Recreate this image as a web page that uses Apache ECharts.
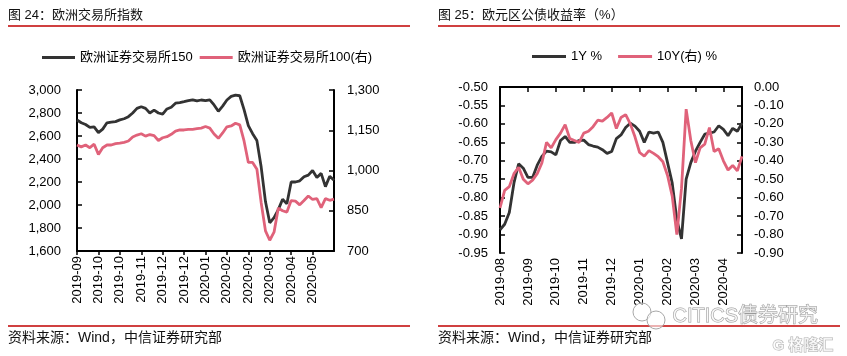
<!DOCTYPE html>
<html>
<head>
<meta charset="utf-8">
<script src="https://cdn.jsdelivr.net/npm/echarts@6/dist/echarts.min.js"></script>
<style>
html, body { margin: 0; padding: 0; background: #fff; }
#main { width: 847px; height: 356px; }
</style>
</head>
<body>
<div id="main"></div>
<script>
// 图24 欧洲交易所指数 (one label every 5 points)
var stoxxTicks = ['2019-09', '2019-10', '2019-10', '2019-11', '2019-12', '2019-12',
                  '2020-01', '2020-02', '2020-02', '2020-03', '2020-04', '2020-05'];
var stoxx150 = [2739, 2715, 2700, 2675, 2680, 2630, 2660, 2715, 2720, 2725,
                2740, 2750, 2768, 2800, 2840, 2855, 2840, 2800, 2825, 2800,
                2790, 2835, 2850, 2885, 2890, 2898, 2907, 2915, 2905, 2913,
                2907, 2915, 2870, 2815, 2860, 2913, 2945, 2956, 2950, 2830,
                2690, 2620, 2560, 2330, 2030, 1845, 1890, 1960, 2050, 2010,
                2200, 2200, 2210, 2245, 2260, 2300, 2240, 2275, 2160, 2250, 2215];
var stoxx100 = [1095, 1088, 1095, 1085, 1098, 1060, 1085, 1095, 1095, 1100,
                1102, 1105, 1110, 1125, 1132, 1137, 1128, 1134, 1130, 1112,
                1122, 1126, 1135, 1147, 1151, 1151, 1153, 1153, 1156, 1158,
                1164, 1158, 1136, 1120, 1140, 1163, 1166, 1176, 1170, 1110,
                1030, 1030, 1005, 880, 775, 740, 770, 860, 850, 845,
                888, 886, 872, 888, 905, 892, 895, 862, 895, 889, 893];

// 图25 欧元区公债收益率 (one label every 6 points)
var bondTicks = ['2019-08', '2019-09', '2019-10', '2019-11', '2019-12',
                 '2020-01', '2020-02', '2020-03', '2020-04'];
var yield1Y = [-0.887, -0.872, -0.840, -0.760, -0.708, -0.720, -0.745, -0.745, -0.712, -0.688,
               -0.674, -0.676, -0.684, -0.645, -0.634, -0.650, -0.650, -0.645, -0.644, -0.656,
               -0.660, -0.663, -0.670, -0.680, -0.675, -0.640, -0.630, -0.610, -0.598, -0.606,
               -0.620, -0.650, -0.622, -0.625, -0.622, -0.650, -0.705, -0.760, -0.860, -0.912,
               -0.750, -0.705, -0.674, -0.650, -0.628, -0.625, -0.622, -0.605, -0.615, -0.632,
               -0.612, -0.620, -0.598];
var yield10Y = [-0.656, -0.560, -0.540, -0.470, -0.435, -0.500, -0.525, -0.505, -0.470, -0.412,
                -0.300, -0.330, -0.285, -0.250, -0.204, -0.280, -0.290, -0.300, -0.250, -0.240,
                -0.215, -0.180, -0.185, -0.165, -0.141, -0.225, -0.165, -0.150, -0.200, -0.270,
                -0.355, -0.375, -0.345, -0.360, -0.378, -0.405, -0.480, -0.590, -0.800, -0.550,
                -0.120, -0.290, -0.410, -0.330, -0.310, -0.220, -0.350, -0.335, -0.400, -0.450,
                -0.425, -0.455, -0.376];

var FONT = '"Liberation Sans", Arial, "Noto Sans CJK SC", sans-serif';
var BLACK = '#333333';
var PINK = '#E0627A';
var RED = '#C00000';

var cats1 = stoxx150.map(function (v, i) { return 'd' + i; });
var cats2 = yield1Y.map(function (v, i) { return 'd' + i; });

function every(n, count) {
    return function (idx) { return idx % n === 0 && idx / n < count; };
}

var axisLine = { show: true, lineStyle: { color: '#000', width: 2 } };
var labelStyle = { color: '#000', fontSize: 13, fontFamily: FONT };

function xLabel(n, ticks) {
    return Object.assign({
        interval: every(n, ticks.length),
        rotate: 90,
        margin: 5,
        formatter: function (v, idx) { return ticks[idx / n] || ''; }
    }, labelStyle);
}

function yAxis(grid, pos, min, max, step, fmt, margin) {
    return {
        type: 'value', gridIndex: grid, position: pos,
        min: min, max: max, interval: step,
        axisLine: axisLine,
        axisTick: { show: true, inside: true, length: 5, lineStyle: { color: '#000', width: 1.5 } },
        axisLabel: Object.assign({ formatter: fmt, margin: margin }, labelStyle),
        splitLine: { show: false }
    };
}

var thousands = function (v) { return v.toLocaleString('en-US'); };
var twoDp = function (v) { return Math.abs(v) < 1e-9 ? '0.00' : v.toFixed(2); };

var chart = echarts.init(document.getElementById('main'), null, { renderer: 'canvas' });

var option = {
    backgroundColor: '#fff',
    animation: false,
    textStyle: { fontFamily: FONT },
    title: [
        { text: '图 24：欧洲交易所指数', left: 8, top: 9, padding: 0,
          textStyle: { fontSize: 13, fontWeight: 'normal', color: '#111', fontFamily: FONT } },
        { text: '图 25：欧元区公债收益率（%）', left: 438, top: 9, padding: 0,
          textStyle: { fontSize: 13, fontWeight: 'normal', color: '#111', fontFamily: FONT } }
    ],
    legend: [
        { data: ['欧洲证券交易所150', '欧洲证券交易所100(右)'], left: 42, top: 51, padding: 0,
          icon: 'rect', itemWidth: 33, itemHeight: 3, itemGap: 7,
          textStyle: { fontSize: 13, color: '#000', fontFamily: FONT } },
        { data: ['1Y %', '10Y(右) %'], left: 532, top: 50, padding: 0,
          icon: 'rect', itemWidth: 34, itemHeight: 3, itemGap: 16,
          textStyle: { fontSize: 13, color: '#000', fontFamily: FONT } }
    ],
    grid: [
        { left: 77, top: 90, width: 257, height: 161 },
        { left: 500, top: 87, width: 242, height: 166 }
    ],
    xAxis: [
        { type: 'category', gridIndex: 0, data: cats1, boundaryGap: false,
          axisLine: axisLine,
          axisTick: { show: true, length: 4, interval: every(5, stoxxTicks.length),
                      lineStyle: { color: '#000', width: 1.5 } },
          axisLabel: xLabel(5, stoxxTicks), splitLine: { show: false } },
        { type: 'category', gridIndex: 1, data: cats2, boundaryGap: false,
          axisLine: { show: false }, axisTick: { show: false },
          axisLabel: xLabel(6, bondTicks), splitLine: { show: false } },
        { type: 'category', gridIndex: 1, data: cats2, boundaryGap: false, position: 'top',
          axisLine: axisLine,
          axisTick: { show: true, inside: true, length: 5, interval: every(6, bondTicks.length),
                      lineStyle: { color: '#000', width: 1.5 } },
          axisLabel: { show: false }, splitLine: { show: false } }
    ],
    yAxis: [
        yAxis(0, 'left', 1600, 3000, 200, thousands, 16),
        yAxis(0, 'right', 700, 1300, 150, thousands, 13),
        yAxis(1, 'left', -0.95, -0.5, 0.05, twoDp, 12),
        yAxis(1, 'right', -0.9, 0, 0.1, twoDp, 12)
    ],
    series: [
        { name: '欧洲证券交易所150', type: 'line', xAxisIndex: 0, yAxisIndex: 0, data: stoxx150,
          showSymbol: false, color: BLACK, lineStyle: { width: 2.8, color: BLACK } },
        { name: '欧洲证券交易所100(右)', type: 'line', xAxisIndex: 0, yAxisIndex: 1, data: stoxx100,
          showSymbol: false, color: PINK, lineStyle: { width: 2.8, color: PINK } },
        { name: '1Y %', type: 'line', xAxisIndex: 1, yAxisIndex: 2, data: yield1Y,
          showSymbol: false, color: BLACK, lineStyle: { width: 2.8, color: BLACK } },
        { name: '10Y(右) %', type: 'line', xAxisIndex: 1, yAxisIndex: 3, data: yield10Y,
          showSymbol: false, color: PINK, lineStyle: { width: 2.8, color: PINK } }
    ],
    graphic: [
        { type: 'line', shape: { x1: 8, y1: 26, x2: 410, y2: 26 }, style: { stroke: RED, lineWidth: 1.5 } },
        { type: 'line', shape: { x1: 438, y1: 26, x2: 840, y2: 26 }, style: { stroke: RED, lineWidth: 1.5 } },
        { type: 'line', shape: { x1: 8, y1: 326, x2: 410, y2: 326 }, style: { stroke: RED, lineWidth: 1.5 } },
        { type: 'line', shape: { x1: 438, y1: 326, x2: 840, y2: 326 }, style: { stroke: RED, lineWidth: 1.5 } },
        { type: 'text', left: 8, top: 331,
          style: { text: '资料来源：Wind，中信证券研究部', fill: '#111', font: '14px ' + FONT } },
        { type: 'text', left: 438, top: 331,
          style: { text: '资料来源：Wind，中信证券研究部', fill: '#111', font: '14px ' + FONT } },
        // watermark
        { type: 'circle', shape: { cx: 642, cy: 312, r: 9 }, z: 10,
          style: { fill: 'rgba(255,255,255,0.6)', stroke: '#a8a8a8', lineWidth: 1 } },
        { type: 'circle', shape: { cx: 656, cy: 320, r: 9 }, z: 10,
          style: { fill: 'rgba(255,255,255,0.6)', stroke: '#a8a8a8', lineWidth: 1 } },
        { type: 'text', left: 672, top: 306, z: 10,
          style: { text: 'CITICS债券研究', font: '20px ' + FONT, fill: 'rgba(255,255,255,0.7)',
                   stroke: '#9a9a9a', lineWidth: 1 } },
        { type: 'text', left: 772, top: 338, z: 10,
          style: { text: 'G 格隆汇', font: 'bold 15px ' + FONT, fill: 'rgba(255,255,255,0.7)',
                   stroke: '#b0b0b0', lineWidth: 1 } }
    ]
};

chart.setOption(option);
</script>
</body>
</html>
